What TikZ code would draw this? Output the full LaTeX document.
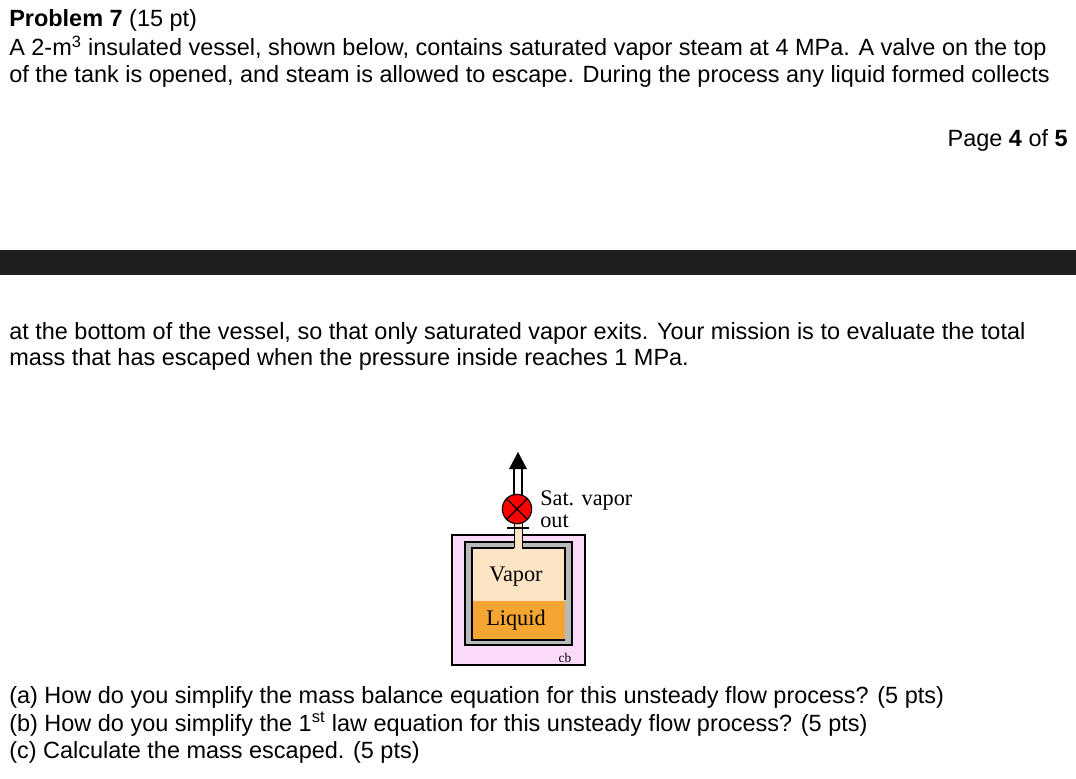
\documentclass[tikz,border=0pt]{standalone}
\usepackage{fontspec}
\setmainfont{Liberation Sans}
\newfontfamily\serifA{Liberation Serif}
\begin{document}
\begin{tikzpicture}[x=0.75pt,y=-0.75pt,
  txt/.style={anchor=west,inner sep=0,font=\fontsize{17.6}{20}\selectfont},
  lab/.style={inner sep=0,font=\serifA\fontsize{16.7}{19}\selectfont}]
\useasboundingbox (0,0) rectangle (1076,779);
\node[txt] (t1) at (9,20) {\textbf{Problem 7} (15 pt)};
\node[txt] (t2) at (9,48) {A 2-m\textsuperscript{3} insulated vessel, shown below, contains saturated vapor steam at 4 MPa. A valve on the top};
\node[txt] (t3) at (9,76) {of the tank is opened, and steam is allowed to escape. During the process any liquid formed collects};
\node[txt,anchor=east] (pg) at (1068,140) {Page \textbf{4} of \textbf{5}};
\fill[black!88] (0,250) rectangle (1076,275);
\node[txt] (t4) at (9,333) {at the bottom of the vessel, so that only saturated vapor exits. Your mission is to evaluate the total};
\node[txt] (t5) at (9,359) {mass that has escaped when the pressure inside reaches 1 MPa.};
\node[txt] (qa) at (9,697) {(a) How do you simplify the mass balance equation for this unsteady flow process? (5 pts)};
\node[txt] (qb) at (9,724) {(b) How do you simplify the 1\textsuperscript{st} law equation for this unsteady flow process? (5 pts)};
\node[txt] (qc) at (9,752) {(c) Calculate the mass escaped. (5 pts)};
% vessel
\draw[fill={rgb,255:red,250;green,220;blue,250},line width=0.9pt] (452,535) rectangle (585,665);
\draw[fill=gray!55,line width=0.9pt] (465,542) rectangle (572,645);
\fill[fill={rgb,255:red,253;green,228;blue,196}] (472,548) rectangle (565,601);
\fill[fill={rgb,255:red,245;green,166;blue,50}] (472,601) rectangle (565,640);
\draw[line width=0.9pt] (565,600) -- (565,548) -- (472,548) -- (472,640) -- (565,640);
% pipe
\fill[fill={rgb,255:red,253;green,228;blue,196}] (514,515) rectangle (522,549);
\draw[line width=0.7pt] (514,515) -- (514,548) (522,515) -- (522,548);
\draw[line width=0.8pt] (507,528) -- (529,528);
% arrow
\draw[fill=white,line width=0.8pt] (514,468) rectangle (522,498);
\fill (509,469) -- (518,452) -- (527,469) -- cycle;
% valve
\node[circle,draw,line width=0.9pt,fill=red,minimum size=22pt,inner sep=0] (v) at (517,509) {};
\draw[line width=0.9pt] (v.45) -- (v.225) (v.135) -- (v.315);
\node[lab,anchor=west] (l1) at (540,500) {Sat. vapor};
\node[lab,anchor=west] (l2) at (540,521) {out};
\node[lab] (vap) at (516,577) {Vapor};
\node[lab] (liq) at (516,620) {Liquid};
\node[inner sep=0,font=\serifA\fontsize{10}{11}\selectfont] (cb) at (565,658) {cb};
\end{tikzpicture}
\end{document}
